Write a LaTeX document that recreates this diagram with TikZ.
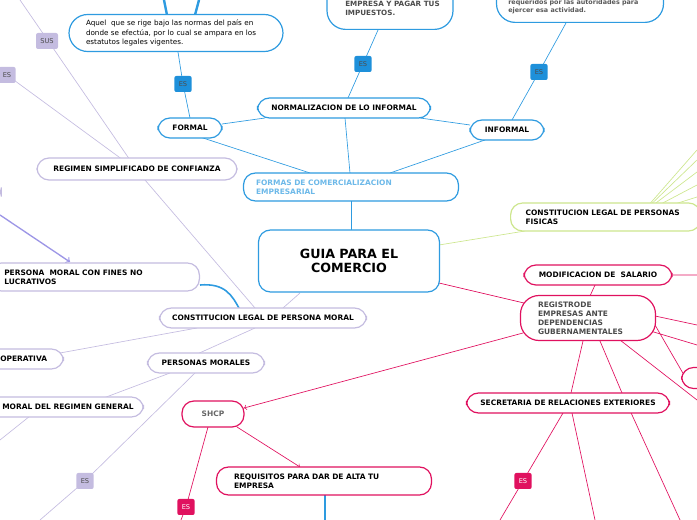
\documentclass[tikz,border=0pt]{standalone}
\usepackage{fontspec}
\setmainfont{DejaVu Sans}
\begin{document}
\begin{tikzpicture}[x=0.75pt,y=-0.75pt,
 font=\fontsize{5.6}{6.8}\selectfont\bfseries,
 bx/.style={draw=#1,line width=0.9pt,rounded corners=9pt,fill=white,align=left,inner sep=0pt},
 es/.style={fill=#1,rounded corners=1.5pt,minimum width=13pt,minimum height=12pt,inner sep=0pt,font=\fontsize{5}{6}\selectfont,text=black!70},
 tx/.style={anchor=west,inner sep=0pt,align=left},
 ln/.style={draw=#1,line width=0.5pt}]
\definecolor{bl}{HTML}{2E9BE0}\definecolor{esb}{HTML}{1E90DA}
\definecolor{pk}{HTML}{E0115F}\definecolor{lv}{HTML}{C4BCE0}\definecolor{gr}{HTML}{CDE68E}
\useasboundingbox (0,0) rectangle (697,520);
\coordinate (tl1) at (20,0);
\coordinate (r1) at (697,150);\coordinate (r2) at (697,160);\coordinate (r3) at (697,172);\coordinate (r4) at (697,185);\coordinate (r5) at (697,197);
\coordinate (rp1) at (697,275);\coordinate (rp2) at (697,325);\coordinate (rp3) at (697,345);\coordinate (rp4) at (697,400);
\coordinate (b1) at (500,520);\coordinate (b2) at (595,520);\coordinate (b3) at (680,520);
\coordinate (b4) at (40,520);\coordinate (b5) at (181,520);\coordinate (b6) at (325,520);
\coordinate (l1) at (0,440);\coordinate (l2) at (0,215);\coordinate (l3) at (70,262);
\coordinate (c0) at (640,215);
\draw[ln=bl] (351,201)--(351,230);
\draw[ln=bl] (200,137)--(310,173) (345,118)--(350,173) (485,140)--(390,173);
\draw[ln=bl] (265,118)--(222,124) (420,118)--(470,125);
\draw[ln=bl] (190,118)--(183,84)--(178,52) (348,98)--(363,64)--(378,30) (512,120)--(539,72)--(566,23);
\draw[ln=bl,line width=1.8pt] (167,15)--(164,0) (195,15)--(199,0);
\draw[ln=gr] (439,245)--(525,231);
\foreach \p in {r1,r2,r3,r4,r5}\draw[ln=gr] (c0)--(\p);
\draw[ln=pk] (439,283)--(524,303) (590,296)--(595,285) (672,275)--(rp1) (655,316)--(rp2) (647,330)--(rp3) (620,340)--(rp4) (655,325)--(684,375);
\draw[ln=pk,->] (523,333)--(244,408);
\draw[ln=pk] (583,341)--(571,393) (600,341)--(622,393)--(b3) (563,413)--(523,481)--(b1) (572,413)--(b2);
\draw[ln=pk,->] (237,427)--(300,467);
\draw[ln=pk] (208,427)--(186,507)--(b5);
\draw[bl,line width=1.8pt] (325,495)--(b6);
\draw[bl,line width=1.2pt] (200,285) .. controls (225,283) and (232,295) .. (240,310);
\draw[ln=lv] (300,293)--(283,308) (255,308)--(145,180) (130,160)--(tl1) (123,160)--(7,75) (195,355)--(255,328)
 (197,328)--(60,353) (170,373)--(85,405) (195,373)--(85,481)--(b4) (30,416)--(l1);
\draw[lv!80!blue,line width=1pt,->] (l2)--(l3);
\node[bx=bl,minimum width=181pt*0.75,minimum height=62pt*0.75,align=center,font=\fontsize{9.5}{11}\selectfont\bfseries] (guia) at (349,261) {GUIA PARA EL\\COMERCIO};
\node[bx=bl,minimum width=215pt*0.75,minimum height=28pt*0.75,text width=190pt*0.75,text=bl!70] (formas) at (351,187) {FORMAS DE COMERCIALIZACION\\EMPRESARIAL};
\node[bx=bl,minimum width=173pt*0.75,minimum height=20pt*0.75,align=center] (norm) at (344,108) {NORMALIZACION DE LO INFORMAL};
\node[bx=bl,minimum width=64pt*0.75,minimum height=20pt*0.75,align=center] (formal) at (190,128) {FORMAL};
\node[bx=bl,minimum width=74pt*0.75,minimum height=20pt*0.75,align=center] (informal) at (507,130) {INFORMAL};
\node[bx=bl,minimum width=214pt*0.75,minimum height=37pt*0.75,text width=180pt*0.75,font=\fontsize{5.4}{7}\selectfont,rounded corners=14pt] (aquel) at (176,33) {Aquel \ que se rige bajo las normas del país en donde se efectúa, por lo cual se ampara en los estatutos legales vigentes.};
\node[bx=bl,minimum width=126pt*0.75,minimum height=60pt*0.75,anchor=south,rounded corners=14pt] (tm) at (390,30) {};
\node[tx,anchor=north west,font=\fontsize{5.4}{6.6}\selectfont\bfseries,text=black!70] (tmt) at (345,1) {EMPRESA Y PAGAR TUS\\IMPUESTOS.};
\node[bx=bl,minimum width=167pt*0.75,minimum height=50pt*0.75,anchor=south,rounded corners=14pt] (tr) at (580,23) {};
\node[tx,anchor=north west,font=\fontsize{4.8}{6.2}\selectfont\bfseries,text=black!65] (trt) at (508,-1) {requeridos por las autoridades para\\ejercer esa actividad.};
\node[es=esb] (e1) at (183,84) {ES};\node[es=esb] (e2) at (363,64) {ES};\node[es=esb] (e3) at (539,72) {ES};
\node[es=lv,minimum width=22pt*0.75] (sus) at (47,41) {SUS};\node[es=lv] (e4) at (7,75) {ES};
\node[es=lv] (e5) at (85,481) {ES};\node[es=pk,text=white] (e6) at (186,507) {ES};\node[es=pk,text=white] (e7) at (523,481) {ES};
\node[bx=lv,minimum width=200pt*0.75,minimum height=22pt*0.75,align=center] (reg) at (137,169) {REGIMEN SIMPLIFICADO DE CONFIANZA};
\node[bx=gr,minimum width=190pt*0.75,minimum height=28pt*0.75,text width=160pt*0.75,anchor=west] (fis) at (510,217) {CONSTITUCION LEGAL DE PERSONAS\\FISICAS};
\node[bx=lv,minimum width=210pt*0.75,minimum height=28pt*0.75,anchor=east] (fines) at (200,277) {};
\node[tx] (finest) at (4,277) {PERSONA \ MORAL CON FINES NO\\LUCRATIVOS};
\node[bx=lv,minimum width=90pt*0.75,minimum height=20pt*0.75,anchor=east] (oper) at (64,359) {};
\node[tx] (opert) at (0,359) {OPERATIVA};
\node[bx=lv,minimum width=170pt*0.75,minimum height=20pt*0.75,anchor=east] (mrg) at (144,407) {};
\node[tx] (mrgt) at (2,407) {MORAL DEL REGIMEN GENERAL};
\node[bx=lv,minimum width=207pt*0.75,minimum height=20pt*0.75,align=center] (cmor) at (263,318) {CONSTITUCION LEGAL DE PERSONA MORAL};
\node[bx=lv,minimum width=117pt*0.75,minimum height=20pt*0.75,align=center] (pm) at (206,363) {PERSONAS MORALES};
\node[bx=lv,minimum width=15pt,minimum height=15pt*0.75,anchor=east] (lvx) at (2,192) {};
\node[bx=pk,minimum width=62pt*0.75,minimum height=26pt*0.75,align=center,text=black!60] (shcp) at (213,414) {SHCP};
\node[bx=pk,minimum width=215pt*0.75,minimum height=28pt*0.75,text width=180pt*0.75] (req) at (324,481) {REQUISITOS PARA DAR DE ALTA TU\\EMPRESA};
\node[bx=pk,minimum width=148pt*0.75,minimum height=20pt*0.75,align=center] (mod) at (598,275) {MODIFICACION DE \ SALARIO};
\node[bx=pk,minimum width=135pt*0.75,minimum height=45pt*0.75,text width=100pt*0.75,rounded corners=14pt,text=black!70] (regi) at (588,318) {REGISTRODE\\EMPRESAS ANTE\\DEPENDENCIAS\\GUBERNAMENTALES};
\node[bx=pk,minimum width=203pt*0.75,minimum height=20pt*0.75,align=center] (sre) at (568,403) {SECRETARIA DE RELACIONES EXTERIORES};
\node[bx=pk,minimum width=30pt*0.75,minimum height=21pt*0.75,anchor=west] (pkx) at (681,378) {};
\end{tikzpicture}
\end{document}
